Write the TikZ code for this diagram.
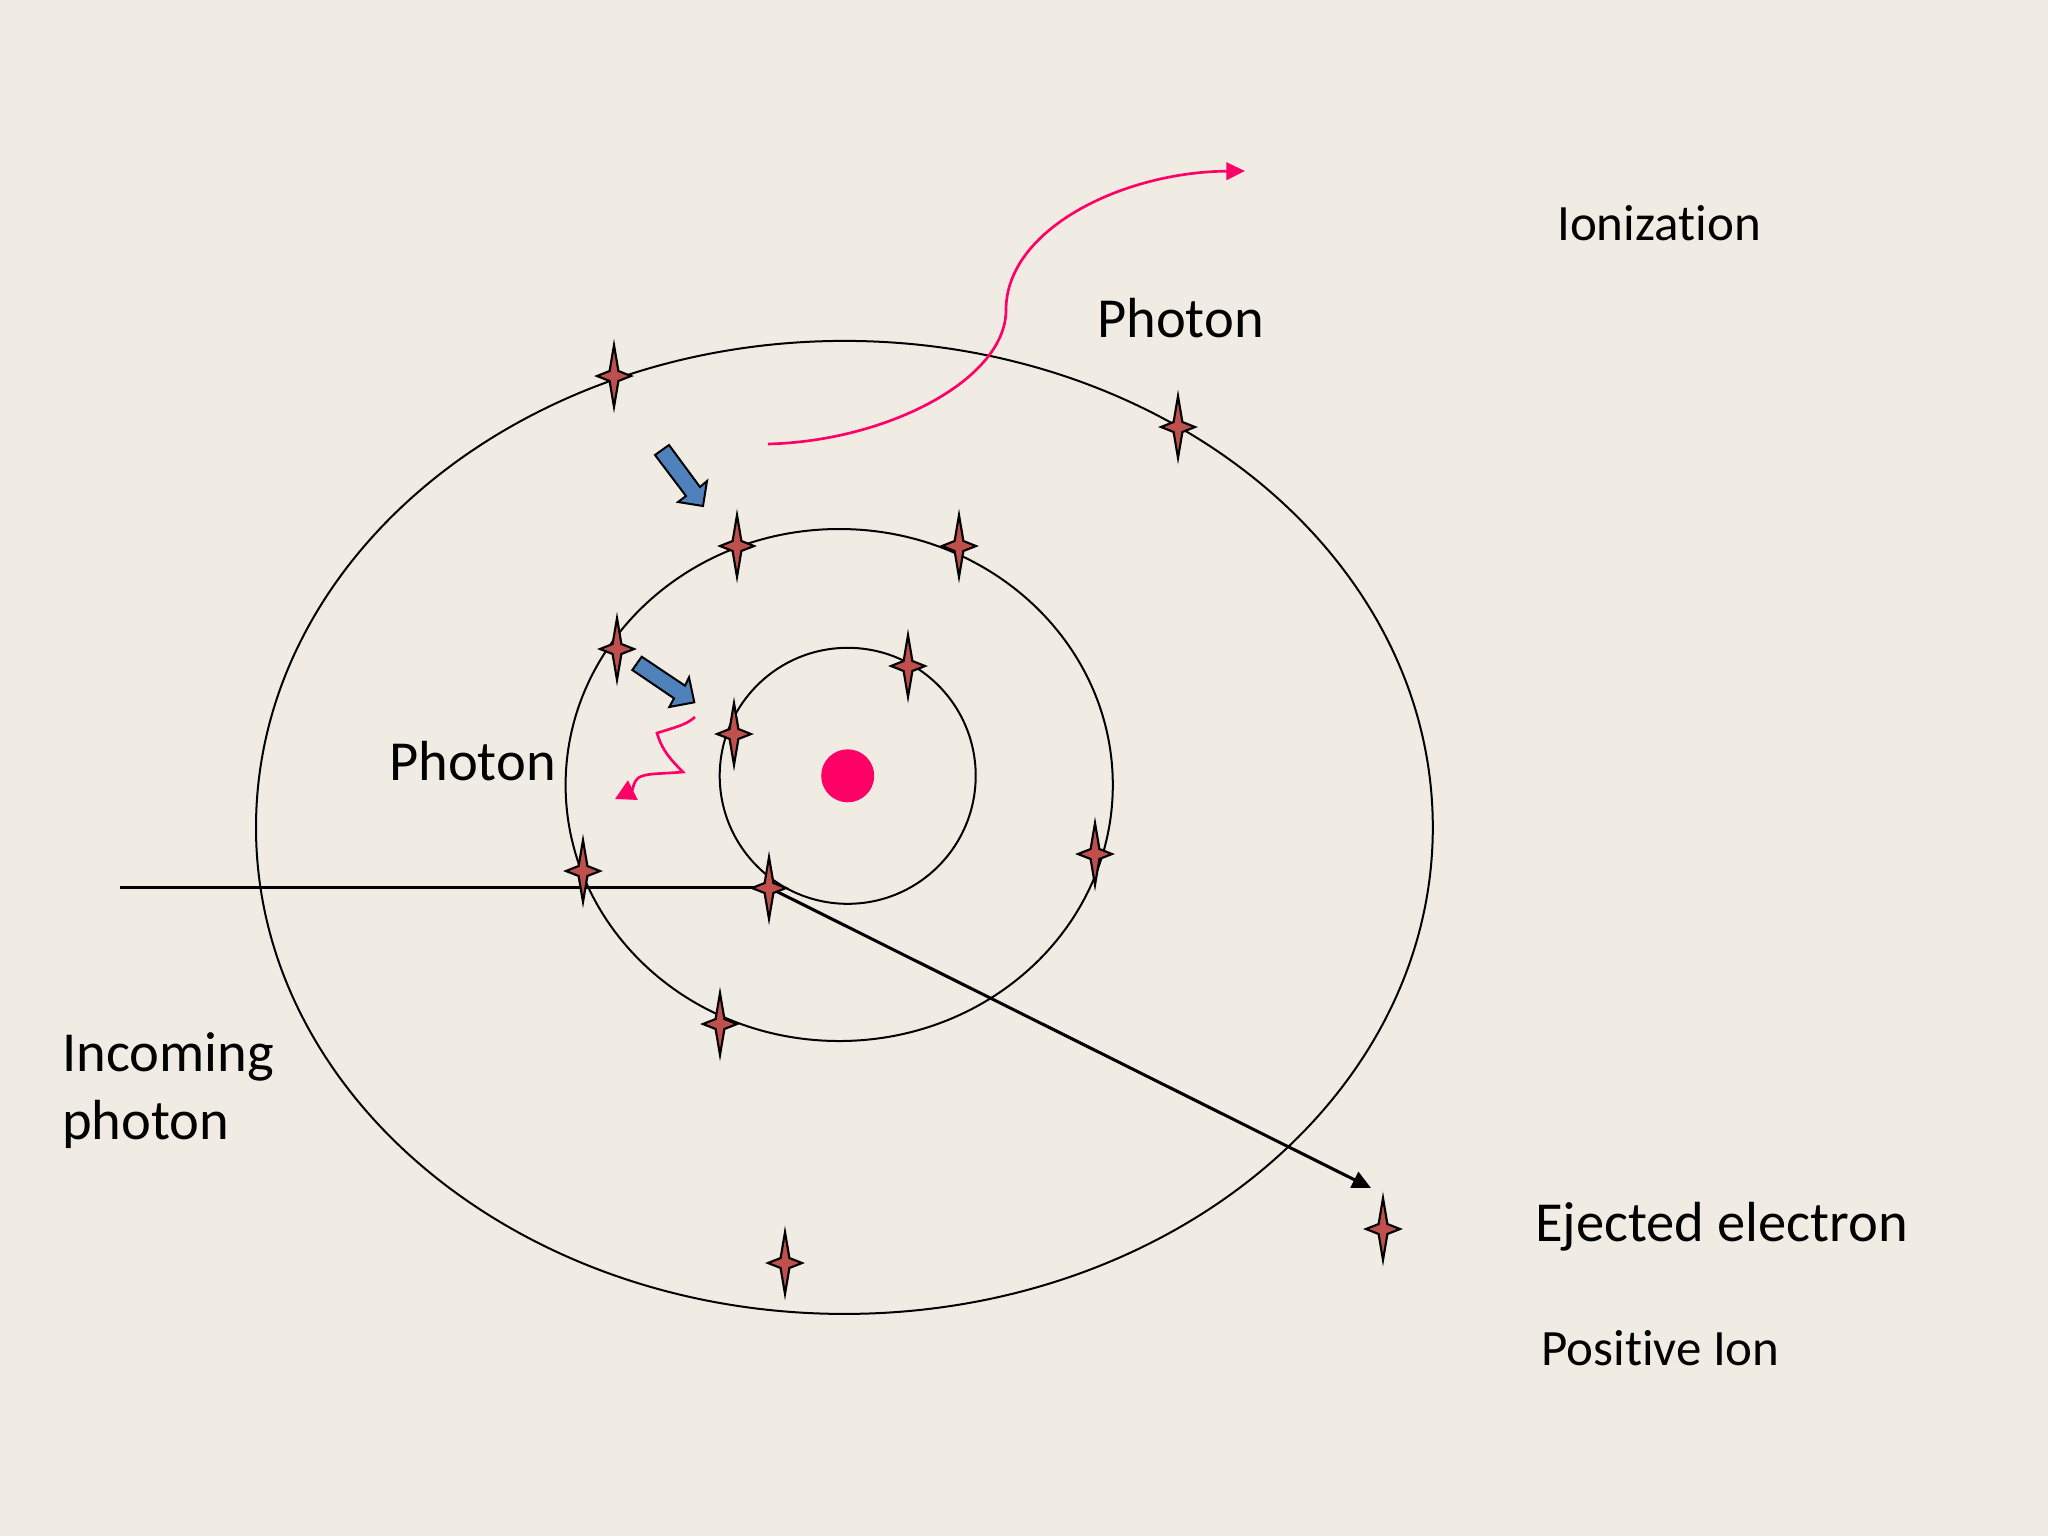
\documentclass[tikz,border=0pt]{standalone}
\usepackage{fontspec}
\setmainfont[Ligatures=NoCommon]{Carlito}
\usetikzlibrary{arrows.meta}
\definecolor{paper}{HTML}{F0ECE4}
\definecolor{pinkline}{HTML}{FF0066}
\definecolor{starred}{HTML}{C0504D}
\definecolor{arrowblue}{HTML}{4F81BD}
\tikzset{
  orbit/.style={draw=black,line width=1.5pt},
  ray/.style={draw=black,line width=2.3pt},
  pinkray/.style={draw=pinkline,line width=2pt},
  bluearrow/.style={draw=black,fill=arrowblue,line width=1.5pt,line join=miter},
  biglabel/.style={anchor=base west,inner sep=0pt,font=\fontsize{42.4}{52}\selectfont},
  smalllabel/.style={anchor=base west,inner sep=0pt,font=\fontsize{38.2}{46}\selectfont},
  electron/.pic={
    \draw[fill=starred,line width=1.6pt,line join=miter,miter limit=20]
      (0,-31) -- (4.4,-5) -- (17,0) -- (4.4,5) -- (0,31) -- (-4.4,5) -- (-17,0) -- (-4.4,-5) -- cycle;
  }
}
\begin{document}
\begin{tikzpicture}[x=0.75pt,y=0.75pt,yscale=-1,xscale=1]
\fill[paper] (0,0) rectangle (2048,1536);
\useasboundingbox (0,0) rectangle (2048,1536);

% Orbits
\draw[orbit] (844.4,827.4) ellipse (588.4 and 486.5);
\draw[orbit] (839.2,785) ellipse (273.6 and 256);
\draw[orbit] (847.7,775.8) circle (128);
% Nucleus
\fill[pinkline] (847.7,775.8) circle (26.5);

% Ends of the rays
\coordinate (rayin) at (120,887.6);
\coordinate (hit) at (769,887.6);
\coordinate (rayout) at (1371,1188);
\draw[ray] (rayin) -- (hit);
\draw[ray,-{Triangle[length=14pt,width=13pt]}] (hit) -- (rayout);

% Electrons
\foreach \ex/\ey in {614/376,1178/427,737/546,959/546,617/649,908/666,734/734,1095/854,583/871,769/888,720/1024,785/1263,1383/1229}
  \pic at (\ex,\ey) {electron};

% Pink paths
\draw[pinkray,-{Triangle[length=14pt,width=13pt]}] (768,444) .. controls (888,441) and (1006,379) .. (1006,310) .. controls (1006,229) and (1123,172) .. (1245,171);
\draw[pinkray,-{Triangle[length=15pt,width=16pt]}] (695,717) .. controls (687,724) and (680,726) .. (657,733) .. controls (662,750) and (670,759) .. (683,772) .. controls (660,774) and (645,773) .. (638,778) .. controls (633,782) and (633,790) .. (615,799);

% Blue arrows
\draw[bluearrow] (655,455) -- (669,445) -- (700,487) -- (707,481) -- (703,506) -- (678,502) -- (686,496) -- cycle;
\draw[bluearrow] (632.3,670) -- (641.7,656.7) -- (685,685.7) -- (689,677.3) -- (694.3,702.3) -- (669.3,707) -- (674,698.3) -- cycle;

% Text Node
\node[smalllabel] (ionization) at (1557,240) {Ionization};
\node[biglabel] (photonup) at (1097,337) {Photon};
\node[biglabel] (photonlow) at (389,780) {Photon};
\node[biglabel] (incoming) at (62,1071) {Incoming};
\node[biglabel] (incomingb) at (62,1139) {photon};
\node[biglabel] (ejected) at (1535,1241) {Ejected electron};
\node[smalllabel] (positive) at (1541,1365) {Positive Ion};

\end{tikzpicture}
\end{document}
